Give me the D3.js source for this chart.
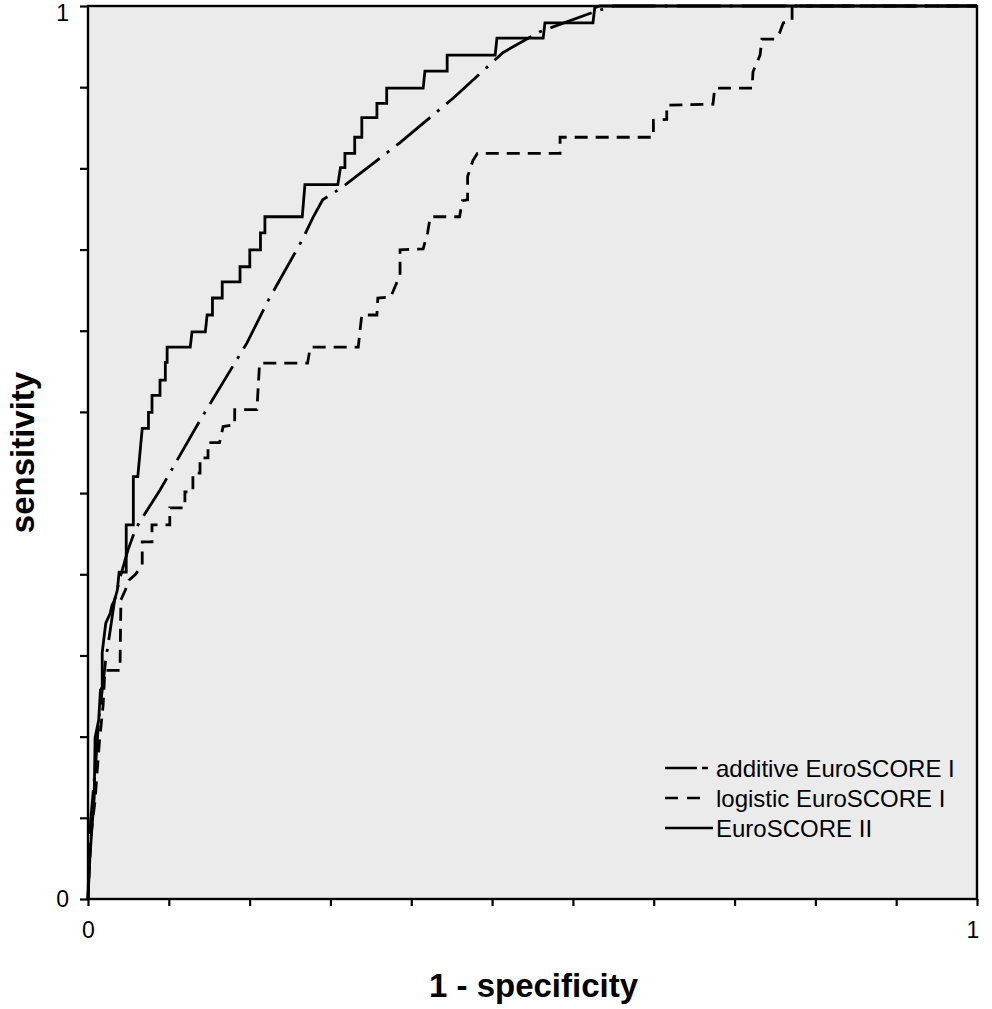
<!DOCTYPE html>
<html>
<head>
<meta charset="utf-8">
<script src="https://cdn.jsdelivr.net/npm/d3@7"></script>
<style>
  html, body { margin: 0; padding: 0; background: #ffffff; }
  svg { display: block; }
  text { font-family: "Liberation Sans", Arial, Helvetica, sans-serif; }
</style>
</head>
<body>
<svg id="chart" width="992" height="1009"></svg>
<script>
// ---- Data (1 - specificity, sensitivity) ----
const seriesNames = ["additive EuroSCORE I", "logistic EuroSCORE I", "EuroSCORE II"];

const additiveEuroScoreI = [
  [0,0],[0.001,0.044],[0.003,0.088],[0.006,0.122],[0.009,0.156],[0.012,0.200],
  [0.016,0.234],[0.020,0.268],[0.025,0.301],[0.030,0.335],[0.037,0.363],[0.045,0.391],
  [0.053,0.413],[0.058,0.422],[0.081,0.458],[0.126,0.536],[0.179,0.623],[0.202,0.669],
  [0.241,0.738],[0.253,0.763],[0.264,0.783],[0.286,0.797],[0.308,0.814],[0.351,0.847],
  [0.411,0.897],[0.467,0.948],[0.508,0.971],[0.568,0.993],[0.591,1],[1,1]
];

const logisticEuroScoreI = [
  [0,0],[0.002,0.044],[0.004,0.077],[0.008,0.111],[0.010,0.139],[0.013,0.178],[0.017,0.217],
  [0.019,0.256],[0.036,0.256],[0.037,0.335],[0.042,0.346],[0.046,0.357],[0.053,0.363],
  [0.061,0.374],[0.061,0.400],[0.072,0.400],[0.072,0.419],[0.092,0.419],[0.092,0.438],
  [0.109,0.438],[0.109,0.456],[0.118,0.456],[0.118,0.477],[0.126,0.477],[0.126,0.494],
  [0.135,0.494],[0.135,0.511],[0.148,0.511],[0.152,0.529],[0.165,0.531],[0.165,0.548],
  [0.190,0.548],[0.193,0.600],[0.247,0.600],[0.250,0.618],[0.304,0.618],[0.306,0.637],
  [0.308,0.654],[0.325,0.654],[0.326,0.673],[0.340,0.674],[0.343,0.680],[0.351,0.699],
  [0.351,0.727],[0.377,0.728],[0.382,0.746],[0.385,0.764],[0.418,0.764],[0.421,0.782],
  [0.427,0.783],[0.427,0.809],[0.433,0.827],[0.438,0.835],[0.531,0.835],[0.531,0.853],
  [0.636,0.853],[0.636,0.872],[0.651,0.873],[0.651,0.889],[0.703,0.890],[0.705,0.908],
  [0.747,0.908],[0.748,0.926],[0.756,0.945],[0.758,0.963],[0.773,0.963],[0.778,0.970],
  [0.782,0.981],[0.792,0.984],[0.792,1],[1,1]
];

const euroScoreII = [
  [0,0],[0.002,0.044],[0.004,0.074],[0.007,0.114],[0.008,0.181],[0.012,0.200],[0.014,0.234],
  [0.016,0.237],[0.016,0.276],[0.018,0.293],[0.020,0.309],[0.025,0.320],[0.027,0.329],
  [0.030,0.335],[0.033,0.346],[0.035,0.366],[0.043,0.366],[0.043,0.419],[0.051,0.419],
  [0.051,0.473],[0.056,0.473],[0.061,0.527],[0.068,0.527],[0.068,0.545],[0.072,0.545],
  [0.072,0.564],[0.081,0.564],[0.081,0.581],[0.087,0.581],[0.087,0.601],[0.089,0.601],
  [0.089,0.618],[0.115,0.618],[0.117,0.635],[0.132,0.635],[0.134,0.654],[0.140,0.654],
  [0.140,0.673],[0.151,0.673],[0.151,0.691],[0.171,0.691],[0.171,0.708],[0.182,0.708],
  [0.182,0.727],[0.194,0.727],[0.194,0.746],[0.199,0.746],[0.199,0.764],[0.241,0.764],
  [0.244,0.800],[0.281,0.800],[0.284,0.819],[0.289,0.819],[0.289,0.835],[0.300,0.835],
  [0.300,0.853],[0.308,0.853],[0.308,0.875],[0.325,0.875],[0.325,0.891],[0.336,0.891],
  [0.336,0.908],[0.377,0.908],[0.379,0.927],[0.404,0.927],[0.404,0.945],[0.458,0.945],
  [0.460,0.964],[0.512,0.964],[0.514,0.981],[0.568,0.981],[0.570,0.998],[0.576,1],[1,1]
];

const tickDivisions = 11;          // minor tick marks between 0 and 1
const tickLabels = ["0", "1"];     // labelled ends of both axes
const xAxisTitle = "1 - specificity";
const yAxisTitle = "sensitivity";

// ---- Layout ----
const svg = d3.select("#chart");
const plot = { left: 88, right: 977, top: 6, bottom: 899 };

const x = d3.scaleLinear().domain([0, 1]).range([plot.left, plot.right]);
const y = d3.scaleLinear().domain([0, 1]).range([plot.bottom, plot.top]);

const tickValues = d3.range(tickDivisions + 1).map(i => i / tickDivisions);
const fmt = d => d === 0 ? tickLabels[0] : (d === 1 ? tickLabels[1] : "");

// plot background
svg.append("rect")
  .attr("x", plot.left).attr("y", plot.top)
  .attr("width", plot.right - plot.left).attr("height", plot.bottom - plot.top)
  .attr("fill", "#ebebeb");

// series
const line = d3.line().x(d => x(d[0])).y(d => y(d[1]));
const styles = [
  { data: additiveEuroScoreI, dash: "44,9,3,9", legendDash: "32,5,6,20" },
  { data: logisticEuroScoreI, dash: "13,8", legendDash: "13,9,13,20" },
  { data: euroScoreII, dash: null, legendDash: null }
];

const g = svg.append("g");
styles.forEach(s => {
  g.append("path")
    .datum(s.data)
    .attr("d", line)
    .attr("fill", "none")
    .attr("stroke", "#000")
    .attr("stroke-width", 2.8)
    .attr("stroke-linejoin", "miter")
    .attr("stroke-dasharray", s.dash);
});

// frame
svg.append("rect")
  .attr("x", plot.left).attr("y", plot.top)
  .attr("width", plot.right - plot.left).attr("height", plot.bottom - plot.top)
  .attr("fill", "none").attr("stroke", "#000").attr("stroke-width", 2.4);

// axes
const yAxis = svg.append("g")
  .attr("transform", `translate(${plot.left},0)`)
  .call(d3.axisLeft(y).tickValues(tickValues).tickFormat(fmt).tickSize(8).tickPadding(11));
const xAxis = svg.append("g")
  .attr("transform", `translate(0,${plot.bottom})`)
  .call(d3.axisBottom(x).tickValues(tickValues).tickFormat(fmt).tickSize(7).tickPadding(16));

[yAxis, xAxis].forEach(a => {
  a.select(".domain").remove();
  a.selectAll(".tick line").attr("stroke", "#000").attr("stroke-width", 2.2);
  a.selectAll(".tick text")
    .attr("fill", "#000")
    .style("font-size", "23px")
    .style("font-family", '"Liberation Sans", Arial, sans-serif');
});
// keep top "1" inside the picture
yAxis.selectAll(".tick").filter(d => d === 1).select("text").attr("dy", "0.62em");
xAxis.selectAll(".tick").filter(d => d === 1).select("text").attr("dx", "-0.2em");

// axis titles
svg.append("text")
  .attr("x", (plot.left + plot.right) / 2 + 1)
  .attr("y", 997)
  .attr("text-anchor", "middle")
  .style("font-size", "33px")
  .style("font-weight", "bold")
  .text(xAxisTitle);

svg.append("text")
  .attr("transform", `translate(34,${(plot.top + plot.bottom) / 2}) rotate(-90)`)
  .attr("text-anchor", "middle")
  .style("font-size", "33px")
  .style("font-weight", "bold")
  .text(yAxisTitle);

// legend
const legend = svg.append("g");
seriesNames.forEach((name, i) => {
  const yy = 768 + i * 30;
  legend.append("line")
    .attr("x1", 665).attr("x2", i === 2 ? 713 : 708)
    .attr("y1", yy).attr("y2", yy)
    .attr("stroke", "#000").attr("stroke-width", 2.4)
    .attr("stroke-dasharray", styles[i].legendDash);
  legend.append("text")
    .attr("x", 716)
    .attr("y", yy + 9)
    .style("font-size", "24px")
    .attr("fill", "#000")
    .text(name);
});
</script>
</body>
</html>
